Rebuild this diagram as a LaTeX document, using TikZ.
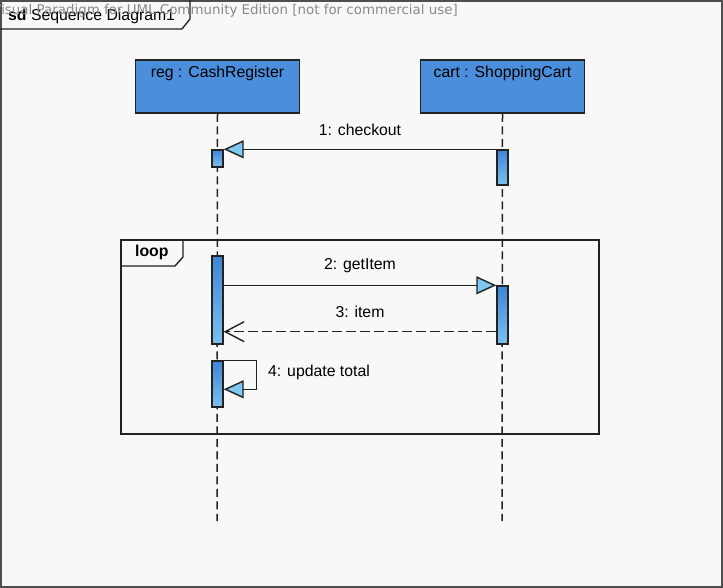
\documentclass[tikz,border=0pt]{standalone}
\usepackage{fontspec}
\setmainfont{Liberation Sans}
\newfontfamily\wmfont{DejaVu Sans}
\usetikzlibrary{arrows.meta}
\definecolor{bgc}{HTML}{F8F8F8}
\definecolor{boxblue}{HTML}{4A8EDC}
\definecolor{acttop}{HTML}{3E86D6}
\definecolor{actbot}{HTML}{7CC0EE}
\definecolor{tipblue}{HTML}{80C8F0}
\definecolor{wmgray}{HTML}{8A8A8A}
\definecolor{edge}{HTML}{222222}
\tikzset{
  lbl/.style={font=\fontsize{15.8}{18}\selectfont, inner sep=0pt},
  lifebox/.style={draw=edge, line width=1.6pt, fill=boxblue, minimum width=164pt, minimum height=53pt, inner sep=0pt},
  actbar/.style={draw=edge, line width=1.4pt, top color=acttop, bottom color=actbot, minimum width=11pt, inner sep=0pt},
  lifeline/.style={draw=edge, line width=1.5pt, dash pattern=on 8pt off 4.5pt},
  framebox/.style={draw=edge, line width=1.4pt},
  callmsg/.style={draw=edge, line width=1.4pt, -{Triangle[length=20pt,width=18pt,fill=tipblue,line width=1.4pt]}},
  retmsg/.style={draw=edge, line width=1.4pt, dash pattern=on 10pt off 4pt, -{Straight Barb[length=19pt,width=20pt,line width=1.4pt]}},
}
\begin{document}
\begin{tikzpicture}[x=1pt,y=-1pt]
\useasboundingbox (0,0) rectangle (723,588);
\clip (0,0) rectangle (723,588);
\fill[bgc] (0,0) rectangle (723,588);
\draw[edge!80, line width=2pt] (1,1) rectangle (722,587);
% diagram frame tab
\draw[framebox] (0,29) -- (182,29) -- (190,19) -- (190,0);
\node[lbl, anchor=base west] (sdlbl) at (8,21) {\textbf{sd} Sequence Diagram1};
% lifeline heads
\node[lifebox, label={[name=regL, lbl, anchor=north, yshift=-7pt]north:{reg : CashRegister}}] (reg) at (217.5,86.5) {};
\node[lifebox, label={[name=cartL, lbl, anchor=north, yshift=-7pt]north:{cart : ShoppingCart}}] (cart) at (502.5,86.5) {};
\coordinate (regEnd) at (217,521);
\coordinate (cartEnd) at (502,521);
\draw[lifeline] (reg.south) -- (regEnd);
\draw[lifeline] (cart.south) -- (cartEnd);
% loop fragment
\draw[framebox] (121,240) rectangle (599,434);
\draw[framebox] (121,266) -- (175,266) -- (183,257) -- (183,240);
\node[lbl, anchor=base west] (looplbl) at (135,257) {\textbf{loop}};
% activation bars
\node[actbar, minimum height=17pt] (regA1) at (217.5,158.5) {};
\node[actbar, minimum height=35pt] (cartA1) at (502.5,167.5) {};
\node[actbar, minimum height=88pt] (regA2) at (217.5,300) {};
\node[actbar, minimum height=58pt] (cartA2) at (502.5,315) {};
\node[actbar, minimum height=46pt] (regA3) at (217.5,384) {};
% messages
\draw[callmsg] (cartA1.north west) -- (regA1.north east)
  node[lbl, midway, yshift=19pt] (m1) {1: checkout};
\draw[callmsg] (regA2.east |- cartA2.north west) -- (cartA2.north west)
  node[lbl, midway, yshift=19.5pt] (m2) {2: getItem};
\draw[retmsg] ([yshift=13pt]cartA2.south west) -- ([yshift=13pt]regA2.east |- cartA2.south west)
  node[lbl, midway, yshift=19.5pt] (m3) {3: item};
\draw[callmsg] (regA3.north east) -- ++(33,0) |- ([yshift=-29pt]regA3.north east);
\node[lbl, anchor=west] (m4) at (268,372) {4: update total};
% watermark
\node[anchor=base east, inner sep=0pt, text=wmgray, font=\wmfont\fontsize{13.4}{15}\selectfont] (wm) at (458,14.5) {Visual Paradigm for UML Community Edition [not for commercial use]};
\end{tikzpicture}
\end{document}
